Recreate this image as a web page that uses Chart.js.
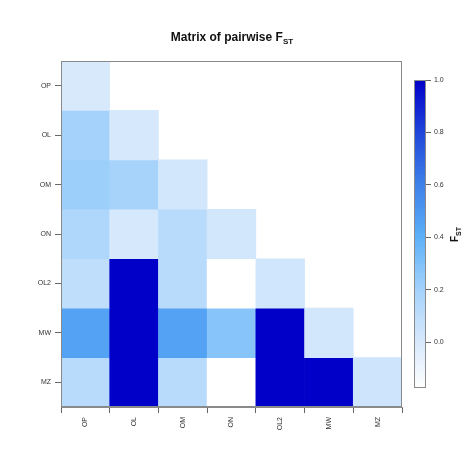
<!DOCTYPE html>
<html>
<head>
<meta charset="utf-8">
<script src="https://cdn.jsdelivr.net/npm/chart.js@4"></script>
<style>
  body { margin: 0; background: #fff; font-family: "Liberation Sans", Arial, sans-serif; }
  #wrap { position: relative; width: 474px; height: 474px; }
  #main { position: absolute; left: 0; top: 0; }
  #bar { position: absolute; left: 400px; top: 0; }
  #title { position: absolute; top: 30px; left: 0; width: 464px; text-align: center; font-weight: bold; font-size: 12px; color: #111; }
  #title sub { font-size: 8px; }
  #flab { position: absolute; left: 448px; top: 228px; transform: rotate(-90deg); font-weight: bold; font-size: 10px; color: #111; }
  #flab sub { font-size: 7px; }
</style>
</head>
<body>
<div id="wrap">
  <canvas id="main" width="410" height="474"></canvas>
  <canvas id="bar" width="74" height="474"></canvas>
  <div id="title">Matrix of pairwise F<sub>ST</sub></div>
  <div id="flab">F<sub>ST</sub></div>
</div>
<script>
// populations, top row to bottom row / left column to right column
const populations = ['OP', 'OL', 'OM', 'ON', 'OL2', 'MW', 'MZ'];

// lower-triangle rows of pairwise FST (null = not drawn)
const fstOP  = [0.00];
const fstOL  = [0.20, 0.01];
const fstOM  = [0.22, 0.19, 0.02];
const fstON  = [0.16, 0.01, 0.12, 0.02];
const fstOL2 = [0.10, 1.00, 0.12, -0.175, 0.03];
const fstMW  = [0.46, 1.00, 0.46, 0.28, 1.00, 0.02];
const fstMZ  = [0.12, 1.00, 0.12, -0.175, 1.00, 1.00, 0.04];
const fstRows = [fstOP, fstOL, fstOM, fstON, fstOL2, fstMW, fstMZ];

// colour key
const keyMin = -0.175;
const keyMax = 1.0;
const keyTicks = [0.0, 0.2, 0.4, 0.6, 0.8, 1.0];
const keyStops = [
  [-0.175, [255, 255, 255]],
  [0.0, [216, 233, 252]],
  [0.2, [164, 210, 251]],
  [0.4, [92, 176, 248]],
  [0.6, [62, 128, 233]],
  [0.8, [32, 70, 218]],
  [1.0, [0, 0, 200]]
];

function colorFor(v) {
  if (v <= keyStops[0][0]) return 'rgb(' + keyStops[0][1].join(',') + ')';
  for (let i = 1; i < keyStops.length; i++) {
    const [v1, c1] = keyStops[i];
    const [v0, c0] = keyStops[i - 1];
    if (v <= v1) {
      const t = (v - v0) / (v1 - v0);
      const c = c0.map((a, k) => Math.round(a + (c1[k] - a) * t));
      return 'rgb(' + c.join(',') + ')';
    }
  }
  return 'rgb(' + keyStops[keyStops.length - 1][1].join(',') + ')';
}

const boxPlugin = {
  id: 'box',
  afterDraw(chart) {
    const a = chart.chartArea, ctx = chart.ctx;
    ctx.save();
    ctx.strokeStyle = '#8a8a8a';
    ctx.lineWidth = 1;
    ctx.strokeRect(a.left + 0.5, a.top + 0.5, a.right - a.left - 1, a.bottom - a.top - 1);
    ctx.restore();
  }
};

const datasets = fstRows.map((row, i) => ({
  data: populations.map((p, j) => (j < row.length ? [i + 0.5, i + 1.5] : null)),
  backgroundColor: populations.map((p, j) => (j < row.length ? colorFor(row[j]) : 'transparent')),
  borderWidth: 0,
  barPercentage: 1.0,
  categoryPercentage: 1.0,
  grouped: false
}));

const tickFont = { size: 7, family: 'Liberation Sans' };

new Chart(document.getElementById('main'), {
  type: 'bar',
  data: { labels: populations, datasets: datasets },
  options: {
    responsive: false,
    animation: false,
    layout: { padding: { top: 61, right: 8, left: 0, bottom: 0 } },
    plugins: { legend: { display: false }, tooltip: { enabled: false } },
    scales: {
      x: {
        grid: { drawOnChartArea: false, tickLength: 6, color: '#666' },
        border: { color: '#8a8a8a' },
        ticks: { font: tickFont, color: '#333', minRotation: 90, maxRotation: 90, padding: 4 },
        afterFit(s) { s.height = 67; }
      },
      y: {
        type: 'linear',
        reverse: true,
        min: 0.5,
        max: 7.5,
        grid: { drawOnChartArea: false, tickLength: 6, color: '#666' },
        border: { color: '#8a8a8a' },
        afterBuildTicks(s) { s.ticks = populations.map((p, i) => ({ value: i + 1 })); },
        ticks: { font: tickFont, color: '#333', padding: 4, callback: v => populations[v - 1] },
        afterFit(s) { s.width = 61; }
      }
    }
  },
  plugins: [boxPlugin]
});

new Chart(document.getElementById('bar'), {
  type: 'bar',
  data: {
    labels: ['key'],
    datasets: [{
      data: [[keyMin, keyMax]],
      backgroundColor(ctx) {
        const chart = ctx.chart, y = chart.scales.y;
        if (!chart.chartArea || !y) return null;
        const g = chart.ctx.createLinearGradient(0, y.getPixelForValue(keyMin), 0, y.getPixelForValue(keyMax));
        keyStops.forEach(([v, c]) => g.addColorStop((v - keyMin) / (keyMax - keyMin), 'rgb(' + c.join(',') + ')'));
        return g;
      },
      borderWidth: 0,
      barPercentage: 1.0,
      categoryPercentage: 1.0
    }]
  },
  options: {
    responsive: false,
    animation: false,
    layout: { padding: { top: 80, bottom: 86, left: 14, right: 0 } },
    plugins: { legend: { display: false }, tooltip: { enabled: false } },
    scales: {
      x: { display: false },
      y: {
        position: 'right',
        min: keyMin,
        max: keyMax,
        grid: { drawOnChartArea: false, tickLength: 5, color: '#666' },
        border: { display: false },
        afterBuildTicks(s) { s.ticks = keyTicks.map(v => ({ value: v })); },
        ticks: { font: tickFont, color: '#333', padding: 3, callback: v => v.toFixed(1) },
        afterFit(s) { s.width = 48; }
      }
    }
  },
  plugins: [boxPlugin]
});
</script>
</body>
</html>
